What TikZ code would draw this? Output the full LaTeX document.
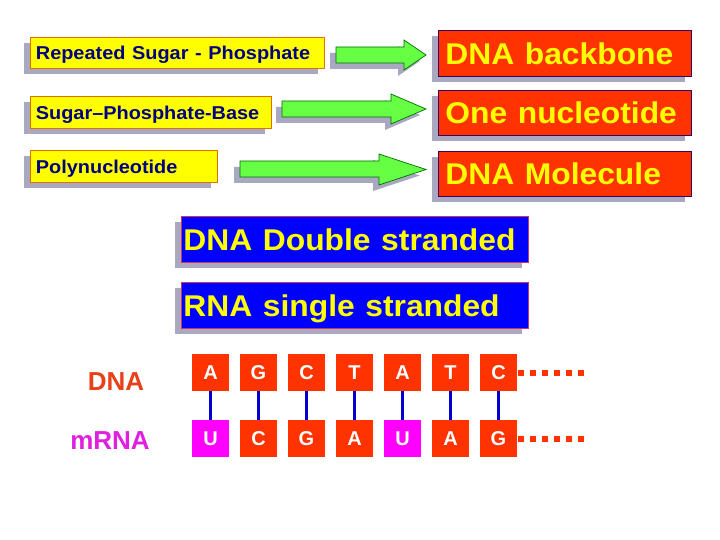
\documentclass[tikz,border=0pt]{standalone}
\usepackage{fontspec}
\setmainfont{Liberation Sans}
\usetikzlibrary{shadows}
\definecolor{shadowc}{RGB}{168,168,192}
\definecolor{yfill}{RGB}{255,255,0}
\definecolor{yborder}{RGB}{224,112,0}
\definecolor{navytext}{RGB}{0,0,128}
\definecolor{redfill}{RGB}{255,51,0}
\definecolor{redborder}{RGB}{60,0,100}
\definecolor{bluefill}{RGB}{0,0,255}
\definecolor{blueborder}{RGB}{204,51,102}
\definecolor{ytext}{RGB}{255,255,0}
\definecolor{greenfill}{RGB}{102,255,68}
\definecolor{greenborder}{RGB}{0,110,0}
\definecolor{conncol}{RGB}{0,0,210}
\definecolor{magfill}{RGB}{255,0,255}
\definecolor{dnalab}{RGB}{232,64,24}
\definecolor{rnalab}{RGB}{224,32,224}
\newcommand{\sx}[2][1.07]{\scalebox{#1}[1]{#2}}
\begin{document}
\begin{tikzpicture}[x=1pt,y=-1pt,
  shad/.style={drop shadow={shadow xshift=-6pt,shadow yshift=-6pt,fill=shadowc,opacity=1}},
  ybox/.style={shad,draw=yborder,fill=yfill,line width=0.8pt,anchor=north west,
    inner ysep=0pt,inner xsep=5.5pt,align=left,text=navytext,
    font=\bfseries\fontsize{18.6}{20}\selectfont,text height=13.3pt,text depth=0pt},
  rbox/.style={shad,draw=redborder,fill=redfill,line width=0.8pt,anchor=north west,
    inner ysep=0pt,inner xsep=7pt,align=left,text=ytext,
    font=\bfseries\fontsize{30}{34}\selectfont,text height=21.5pt,text depth=0pt},
  bbox/.style={rbox,draw=blueborder,fill=bluefill,inner xsep=2pt},
  garrow/.style={shad,draw=greenborder,fill=greenfill,line width=0.7pt,line join=miter},
  lb/.style={minimum size=37pt,inner sep=0pt,fill=redfill,text=white,
    font=\bfseries\fontsize{20}{20}\selectfont,text height=14.5pt,text depth=0pt},
  mb/.style={lb,fill=magfill},
  conn/.style={draw=conncol,line width=3.5pt},
  dotl/.style={draw=redfill,line width=6pt,dash pattern=on 6pt off 6pt},
  lab/.style={font=\bfseries\fontsize{26}{26}\selectfont}
]
\useasboundingbox[fill=white] (0,0) rectangle (720,540);

% yellow boxes
\node[ybox,text width=283pt,minimum height=31pt] (y1) at (30,37) {\sx{Repeated Sugar - Phosphate}};
\node[ybox,text width=230pt,minimum height=32pt] (y2) at (30,96) {\sx{Sugar--Phosphate-Base}};
\node[ybox,text width=176pt,minimum height=32pt] (y3) at (30,150) {\sx{Polynucleotide}};

% red boxes
\node[rbox,text width=239pt,minimum height=46pt] (r1) at (438,30) {\sx[1.06]{DNA backbone}};
\node[rbox,text width=239pt,minimum height=45pt] (r2) at (438,90) {\sx[1.06]{One nucleotide}};
\node[rbox,text width=239pt,minimum height=45pt] (r3) at (438,151) {\sx[1.06]{DNA Molecule}};

% green arrows
\filldraw[garrow] (336,47) -- (404,47) -- (404,40) -- (426,55) -- (404,70) -- (404,63) -- (336,63) -- cycle;
\filldraw[garrow] (282,101) -- (391,101) -- (391,94) -- (426,109) -- (391,124) -- (391,117) -- (282,117) -- cycle;
\filldraw[garrow] (240,161) -- (379,161) -- (379,154) -- (426,169.5) -- (379,185) -- (379,177) -- (240,177) -- cycle;

% blue boxes
\node[bbox,text width=343pt,minimum height=46pt] (b1) at (181,216) {\sx[1.06]{DNA Double stranded}};
\node[bbox,text width=343pt,minimum height=46pt] (b2) at (181,282) {\sx[1.06]{RNA single stranded}};

% labels
\node[lab,text=dnalab] (ldna) at (116,382) {DNA};
\node[lab,text=rnalab] (lrna) at (110,441) {mRNA};

% base boxes
\foreach \l [count=\i] in {A,G,C,T,A,T,C}
  \node[lb] (d\i) at ({210.5+48*(\i-1)},372.5) {\l};
\foreach \l/\s [count=\i] in {U/mb,C/lb,G/lb,A/lb,U/mb,A/lb,G/lb}
  \node[\s] (m\i) at ({210.5+48*(\i-1)},438.5) {\l};
\foreach \i in {1,...,7}
  \draw[conn] (d\i) -- (m\i);

% dotted continuations
\coordinate (e1) at (584,372.5);
\coordinate (e2) at (584,438.5);
\draw[dotl] ([xshift=1pt]d7.east) -- (e1);
\draw[dotl] ([xshift=1pt]m7.east) -- (e2);
\end{tikzpicture}
\end{document}
